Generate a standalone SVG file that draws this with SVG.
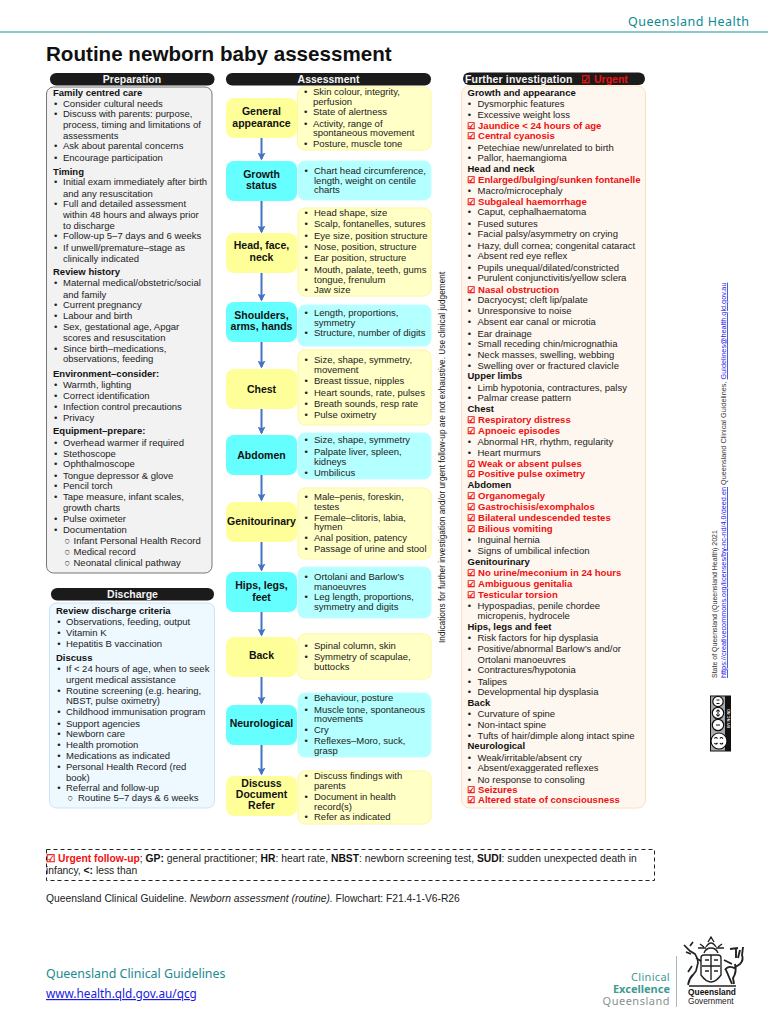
<svg xmlns="http://www.w3.org/2000/svg" width="768" height="1024" viewBox="0 0 768 1024">
<style>
text{font-family:"Liberation Sans",Arial,sans-serif;fill:#222;font-size:9.5px}
.h{font-weight:bold;fill:#111}
.r{font-weight:bold;fill:#f01010;font-size:9.6px}
.c{font-family:"DejaVu Sans",sans-serif;fill:#f01010;font-size:9px;stroke:#f01010;stroke-width:.35px}
.p{font-weight:bold;fill:#f4f4f4;font-size:10.5px;text-anchor:middle}
.n{font-weight:bold;fill:#111;font-size:10.5px;text-anchor:middle}
.pill{fill:#1b1b1b}
.ly{fill:#FFFF99}.lc{fill:#66FFFF}
.ry{fill:#FFFFC6;stroke:#FFF79E;stroke-width:1}
.rc{fill:#B4FFFF;stroke:#C4FBFF;stroke-width:1}
.arr{stroke:#4472C4;stroke-width:2;fill:none;marker-end:url(#ah)}
.s{font-size:7.3px;fill:#333}
.l{font-size:7.3px;fill:#1a1ae0;text-decoration:underline}
.cr{fill:none;stroke:#222;stroke-width:1.4}
.q{font-family:"Noto Sans",sans-serif}
</style>
<defs>
<marker id="ah" markerWidth="4" markerHeight="4" refX="3.2" refY="2" orient="auto"><path d="M0,0L4,2L0,4L.8,2Z" fill="#4472C4"/></marker>
</defs>
<rect width="768" height="1024" fill="#fff"/>
<g id="header">
<text class="q" x="628" y="26" style="font-size:12.5px;fill:#0b8a8f;letter-spacing:.5px">Queensland Health</text>
<rect x="0" y="31.500" width="768" height="1" fill="#1a8f93"/>
<text x="46" y="61" style="font-weight:bold;font-size:20.6px;fill:#111">Routine newborn baby assessment</text>
</g>
<g id="preparation">
<rect class="pill" x="50" y="73" width="164.500" height="12.500" rx="6.200"/>
<text class="p" x="132" y="82.500">Preparation</text>
<rect x="46.500" y="87" width="165.500" height="486" rx="7" fill="#F2F2F2" stroke="#777"/>
<text class="h" x="53" y="96">Family centred care</text>
<text y="106.700"><tspan x="54">•</tspan><tspan x="63">Consider cultural needs</tspan></text>
<text y="116.700"><tspan x="54">•</tspan><tspan x="63">Discuss with parents: purpose,</tspan></text>
<text x="63" y="128">process, timing and limitations of</text>
<text x="63" y="138.700">assessments</text>
<text y="149"><tspan x="54">•</tspan><tspan x="63">Ask about parental concerns</tspan></text>
<text y="160.700"><tspan x="54">•</tspan><tspan x="63">Encourage participation</tspan></text>
<text class="h" x="53" y="175">Timing</text>
<text y="185.300"><tspan x="54">•</tspan><tspan x="63">Initial exam immediately after birth</tspan></text>
<text x="63" y="196.700">and any resuscitation</text>
<text y="206.700"><tspan x="54">•</tspan><tspan x="63">Full and detailed assessment</tspan></text>
<text x="63" y="217.700">within 48 hours and always prior</text>
<text x="63" y="229">to discharge</text>
<text y="239.300"><tspan x="54">•</tspan><tspan x="63">Follow-up 5–7 days and 6 weeks</tspan></text>
<text y="251"><tspan x="54">•</tspan><tspan x="63">If unwell/premature–stage as</tspan></text>
<text x="63" y="261.700">clinically indicated</text>
<text class="h" x="53" y="275.300">Review history</text>
<text y="286"><tspan x="54">•</tspan><tspan x="63">Maternal medical/obstetric/social</tspan></text>
<text x="63" y="297.700">and family</text>
<text y="308.300"><tspan x="54">•</tspan><tspan x="63">Current pregnancy</tspan></text>
<text y="319.300"><tspan x="54">•</tspan><tspan x="63">Labour and birth</tspan></text>
<text y="330.300"><tspan x="54">•</tspan><tspan x="63">Sex, gestational age, Apgar</tspan></text>
<text x="63" y="341.300">scores and resuscitation</text>
<text y="352"><tspan x="54">•</tspan><tspan x="63">Since birth–medications,</tspan></text>
<text x="63" y="362.300">observations, feeding</text>
<text class="h" x="53" y="376.700">Environment–consider:</text>
<text y="388"><tspan x="54">•</tspan><tspan x="63">Warmth, lighting</tspan></text>
<text y="398.700"><tspan x="54">•</tspan><tspan x="63">Correct identification</tspan></text>
<text y="410"><tspan x="54">•</tspan><tspan x="63">Infection control precautions</tspan></text>
<text y="420.700"><tspan x="54">•</tspan><tspan x="63">Privacy</tspan></text>
<text class="h" x="53" y="434">Equipment–prepare:</text>
<text y="446"><tspan x="54">•</tspan><tspan x="63">Overhead warmer if required</tspan></text>
<text y="456.700"><tspan x="54">•</tspan><tspan x="63">Stethoscope</tspan></text>
<text y="467"><tspan x="54">•</tspan><tspan x="63">Ophthalmoscope</tspan></text>
<text y="478.700"><tspan x="54">•</tspan><tspan x="63">Tongue depressor &amp; glove</tspan></text>
<text y="489"><tspan x="54">•</tspan><tspan x="63">Pencil torch</tspan></text>
<text y="500.300"><tspan x="54">•</tspan><tspan x="63">Tape measure, infant scales,</tspan></text>
<text x="63" y="511">growth charts</text>
<text y="522.300"><tspan x="54">•</tspan><tspan x="63">Pulse oximeter</tspan></text>
<text y="532.700"><tspan x="54">•</tspan><tspan x="63">Documentation</tspan></text>
<text y="544"><tspan x="64.500">○</tspan><tspan x="73.500">Infant Personal Health Record</tspan></text>
<text y="554.700"><tspan x="64.500">○</tspan><tspan x="73.500">Medical record</tspan></text>
<text y="566"><tspan x="64.500">○</tspan><tspan x="73.500">Neonatal clinical pathway</tspan></text>
</g>
<g id="discharge">
<rect class="pill" x="51" y="588" width="163" height="12.500" rx="6.200"/>
<text class="p" x="132.500" y="597.500">Discharge</text>
<rect x="49.500" y="603" width="165" height="205" rx="7" fill="#EEF8FF" stroke="#CDE4F4"/>
<text class="h" x="56" y="614">Review discharge criteria</text>
<text y="625"><tspan x="57.300">•</tspan><tspan x="66">Observations, feeding, output</tspan></text>
<text y="636"><tspan x="57.300">•</tspan><tspan x="66">Vitamin K</tspan></text>
<text y="646.700"><tspan x="57.300">•</tspan><tspan x="66">Hepatitis B vaccination</tspan></text>
<text class="h" x="56" y="661.300">Discuss</text>
<text y="672.300"><tspan x="57.300">•</tspan><tspan x="66">If &lt; 24 hours of age, when to seek</tspan></text>
<text x="66" y="683">urgent medical assistance</text>
<text y="693.700"><tspan x="57.300">•</tspan><tspan x="66">Routine screening (e.g. hearing,</tspan></text>
<text x="66" y="704.300">NBST, pulse oximetry)</text>
<text y="715"><tspan x="57.300">•</tspan><tspan x="66">Childhood immunisation program</tspan></text>
<text y="726.700"><tspan x="57.300">•</tspan><tspan x="66">Support agencies</tspan></text>
<text y="737"><tspan x="57.300">•</tspan><tspan x="66">Newborn care</tspan></text>
<text y="748.300"><tspan x="57.300">•</tspan><tspan x="66">Health promotion</tspan></text>
<text y="758.700"><tspan x="57.300">•</tspan><tspan x="66">Medications as indicated</tspan></text>
<text y="770.300"><tspan x="57.300">•</tspan><tspan x="66">Personal Health Record (red</tspan></text>
<text x="66" y="781">book)</text>
<text y="791.300"><tspan x="57.300">•</tspan><tspan x="66">Referral and follow-up</tspan></text>
<text y="801.300"><tspan x="67.500">○</tspan><tspan x="78">Routine 5–7 days &amp; 6 weeks</tspan></text>
</g>
<g id="assessment-title">
<rect class="pill" x="226" y="73" width="205" height="12.500" rx="6.200"/>
<text class="p" x="328.500" y="82.500">Assessment</text>
</g>
<g id="connectors">
<path class="arr" d="M261.500 138V159"/>
<path class="arr" d="M261.500 201V232"/>
<path class="arr" d="M261.500 273V300"/>
<path class="arr" d="M261.500 342V367"/>
<path class="arr" d="M261.500 409V433"/>
<path class="arr" d="M261.500 475V500"/>
<path class="arr" d="M261.500 542V570"/>
<path class="arr" d="M261.500 612V635"/>
<path class="arr" d="M261.500 677V703"/>
<path class="arr" d="M261.500 745V774"/>
</g>
<g id="general">
<rect class="ly" x="226" y="98" width="71" height="40" rx="8"/>
<text class="n" x="261.500" y="115">General</text><text class="n" x="261.500" y="126.700">appearance</text>
<rect class="ry" x="297.500" y="87" width="133.500" height="63" rx="7"/>
<text y="95"><tspan x="304">•</tspan><tspan x="313">Skin colour, integrity,</tspan></text>
<text x="313" y="104.700">perfusion</text>
<text y="115"><tspan x="304">•</tspan><tspan x="313">State of alertness</tspan></text>
<text y="126.700"><tspan x="304">•</tspan><tspan x="313">Activity, range of</tspan></text>
<text x="313" y="136">spontaneous movement</text>
<text y="147.300"><tspan x="304">•</tspan><tspan x="313">Posture, muscle tone</tspan></text>
</g>
<g id="growth">
<rect class="lc" x="226" y="161" width="71" height="40" rx="8"/>
<text class="n" x="261.500" y="177.700">Growth</text><text class="n" x="261.500" y="189.300">status</text>
<rect class="rc" x="298" y="161" width="133" height="39" rx="7"/>
<text y="173.800"><tspan x="304.500">•</tspan><tspan x="314">Chart head circumference,</tspan></text>
<text x="314" y="183.500">length, weight on centile</text>
<text x="314" y="193">charts</text>
</g>
<g id="head">
<rect class="ly" x="226" y="233" width="71" height="40" rx="8"/>
<text class="n" x="261.500" y="249.300">Head, face,</text><text class="n" x="261.500" y="260.700">neck</text>
<rect class="ry" x="298" y="208" width="133" height="88" rx="7"/>
<text y="215.700"><tspan x="304.500">•</tspan><tspan x="314">Head shape, size</tspan></text>
<text y="227.300"><tspan x="304.500">•</tspan><tspan x="314">Scalp, fontanelles, sutures</tspan></text>
<text y="238.700"><tspan x="304.500">•</tspan><tspan x="314">Eye size, position structure</tspan></text>
<text y="250"><tspan x="304.500">•</tspan><tspan x="314">Nose, position, structure</tspan></text>
<text y="261.300"><tspan x="304.500">•</tspan><tspan x="314">Ear position, structure</tspan></text>
<text y="272.700"><tspan x="304.500">•</tspan><tspan x="314">Mouth, palate, teeth, gums</tspan></text>
<text x="314" y="282.700">tongue, frenulum</text>
<text y="292.700"><tspan x="304.500">•</tspan><tspan x="314">Jaw size</tspan></text>
</g>
<g id="shoulders">
<rect class="lc" x="226" y="302" width="71" height="40" rx="8"/>
<text class="n" x="261.500" y="318.500">Shoulders,</text><text class="n" x="261.500" y="330">arms, hands</text>
<rect class="rc" x="298" y="305" width="133" height="41" rx="7"/>
<text y="316"><tspan x="304.500">•</tspan><tspan x="314">Length, proportions,</tspan></text>
<text x="314" y="325.700">symmetry</text>
<text y="336"><tspan x="304.500">•</tspan><tspan x="314">Structure, number of digits</tspan></text>
</g>
<g id="chest">
<rect class="ly" x="226" y="369" width="71" height="40" rx="8"/>
<text class="n" x="261.500" y="392.500">Chest</text>
<rect class="ry" x="298" y="350" width="133" height="75" rx="7"/>
<text y="363"><tspan x="304.500">•</tspan><tspan x="314">Size, shape, symmetry,</tspan></text>
<text x="314" y="373">movement</text>
<text y="384"><tspan x="304.500">•</tspan><tspan x="314">Breast tissue, nipples</tspan></text>
<text y="396"><tspan x="304.500">•</tspan><tspan x="314">Heart sounds, rate, pulses</tspan></text>
<text y="407"><tspan x="304.500">•</tspan><tspan x="314">Breath sounds, resp rate</tspan></text>
<text y="418"><tspan x="304.500">•</tspan><tspan x="314">Pulse oximetry</tspan></text>
</g>
<g id="abdomen">
<rect class="lc" x="226" y="435" width="71" height="40" rx="8"/>
<text class="n" x="261.500" y="458.500">Abdomen</text>
<rect class="rc" x="298" y="433" width="133" height="46" rx="7"/>
<text y="443"><tspan x="304.500">•</tspan><tspan x="314">Size, shape, symmetry</tspan></text>
<text y="455"><tspan x="304.500">•</tspan><tspan x="314">Palpate liver, spleen,</tspan></text>
<text x="314" y="465">kidneys</text>
<text y="476"><tspan x="304.500">•</tspan><tspan x="314">Umbilicus</tspan></text>
</g>
<g id="genitourinary">
<rect class="ly" x="226" y="502" width="71" height="40" rx="8"/>
<text class="n" x="261.500" y="525">Genitourinary</text>
<rect class="ry" x="298" y="488" width="133" height="71" rx="7"/>
<text y="500"><tspan x="304.500">•</tspan><tspan x="314">Male–penis, foreskin,</tspan></text>
<text x="314" y="510">testes</text>
<text y="521"><tspan x="304.500">•</tspan><tspan x="314">Female–clitoris, labia,</tspan></text>
<text x="314" y="530">hymen</text>
<text y="541"><tspan x="304.500">•</tspan><tspan x="314">Anal position, patency</tspan></text>
<text y="552"><tspan x="304.500">•</tspan><tspan x="314">Passage of urine and stool</tspan></text>
</g>
<g id="hips">
<rect class="lc" x="226" y="572" width="71" height="40" rx="8"/>
<text class="n" x="261.500" y="589">Hips, legs,</text><text class="n" x="261.500" y="600.700">feet</text>
<rect class="rc" x="298" y="567" width="133" height="51" rx="7"/>
<text y="580.300"><tspan x="304.500">•</tspan><tspan x="314">Ortolani and Barlow’s</tspan></text>
<text x="314" y="590">manoeuvres</text>
<text y="600"><tspan x="304.500">•</tspan><tspan x="314">Leg length, proportions,</tspan></text>
<text x="314" y="610">symmetry and digits</text>
</g>
<g id="back">
<rect class="ly" x="226" y="637" width="71" height="40" rx="8"/>
<text class="n" x="261.500" y="659.300">Back</text>
<rect class="ry" x="298" y="634" width="133" height="45" rx="7"/>
<text y="648.700"><tspan x="304.500">•</tspan><tspan x="314">Spinal column, skin</tspan></text>
<text y="660.300"><tspan x="304.500">•</tspan><tspan x="314">Symmetry of scapulae,</tspan></text>
<text x="314" y="669.700">buttocks</text>
</g>
<g id="neurological">
<rect class="lc" x="226" y="705" width="71" height="40" rx="8"/>
<text class="n" x="261.500" y="726.700">Neurological</text>
<rect class="rc" x="298" y="693" width="133" height="64" rx="7"/>
<text y="701.300"><tspan x="304.500">•</tspan><tspan x="314">Behaviour, posture</tspan></text>
<text y="712.700"><tspan x="304.500">•</tspan><tspan x="314">Muscle tone, spontaneous</tspan></text>
<text x="314" y="722">movements</text>
<text y="732.700"><tspan x="304.500">•</tspan><tspan x="314">Cry</tspan></text>
<text y="744"><tspan x="304.500">•</tspan><tspan x="314">Reflexes–Moro, suck,</tspan></text>
<text x="314" y="753.700">grasp</text>
</g>
<g id="discuss">
<rect class="ly" x="226" y="776" width="71" height="40" rx="8"/>
<text class="n" x="261.500" y="786.700">Discuss</text><text class="n" x="261.500" y="798.300">Document</text><text class="n" x="261.500" y="809.300">Refer</text>
<rect class="ry" x="298" y="771" width="133" height="53" rx="7"/>
<text y="779.300"><tspan x="304.500">•</tspan><tspan x="314">Discuss findings with</tspan></text>
<text x="314" y="789">parents</text>
<text y="800"><tspan x="304.500">•</tspan><tspan x="314">Document in health</tspan></text>
<text x="314" y="809.700">record(s)</text>
<text y="820"><tspan x="304.500">•</tspan><tspan x="314">Refer as indicated</tspan></text>
</g>
<text id="side-note" transform="translate(445,643) rotate(-90)" style="font-size:8.3px;fill:#111">Indications for further investigation and/or urgent follow-up are not exhaustive. Use clinical judgement</text>
<g id="further">
<rect class="pill" x="463" y="72.500" width="182" height="12.500" rx="6.200"/>
<text x="465" y="82.500" style="font-weight:bold;fill:#f4f4f4;font-size:10.5px;letter-spacing:.15px">Further investigation</text>
<text class="c" x="581" y="82.500" style="font-size:10px">☑</text>
<text x="594" y="82.500" style="font-weight:bold;fill:#f01010;font-size:10.5px">Urgent</text>
<rect x="461.500" y="86" width="184" height="722" rx="8" fill="#FEF7EF" stroke="#FBE0C0"/>
<text class="h" x="467.500" y="95.700">Growth and appearance</text>
<text y="107"><tspan x="467.700">•</tspan><tspan x="477.500">Dysmorphic features</tspan></text>
<text y="117.700"><tspan x="467.700">•</tspan><tspan x="477.500">Excessive weight loss</tspan></text>
<text y="128.700"><tspan class="c" x="467">☑</tspan><tspan class="r" x="478">Jaundice &lt; 24 hours of age</tspan></text>
<text y="139.300"><tspan class="c" x="467">☑</tspan><tspan class="r" x="478">Central cyanosis</tspan></text>
<text y="150.700"><tspan x="467.700">•</tspan><tspan x="477.500">Petechiae new/unrelated to birth</tspan></text>
<text y="161.300"><tspan x="467.700">•</tspan><tspan x="477.500">Pallor, haemangioma</tspan></text>
<text class="h" x="467.500" y="171.700">Head and neck</text>
<text y="183"><tspan class="c" x="467">☑</tspan><tspan class="r" x="478">Enlarged/bulging/sunken fontanelle</tspan></text>
<text y="193.700"><tspan x="467.700">•</tspan><tspan x="477.500">Macro/microcephaly</tspan></text>
<text y="205"><tspan class="c" x="467">☑</tspan><tspan class="r" x="478">Subgaleal haemorrhage</tspan></text>
<text y="215.300"><tspan x="467.700">•</tspan><tspan x="477.500">Caput, cephalhaematoma</tspan></text>
<text y="226.700"><tspan x="467.700">•</tspan><tspan x="477.500">Fused sutures</tspan></text>
<text y="237.300"><tspan x="467.700">•</tspan><tspan x="477.500">Facial palsy/asymmetry on crying</tspan></text>
<text y="248.700"><tspan x="467.700">•</tspan><tspan x="477.500">Hazy, dull cornea; congenital cataract</tspan></text>
<text y="259.300"><tspan x="467.700">•</tspan><tspan x="477.500">Absent red eye reflex</tspan></text>
<text y="270.700"><tspan x="467.700">•</tspan><tspan x="477.500">Pupils unequal/dilated/constricted</tspan></text>
<text y="281.300"><tspan x="467.700">•</tspan><tspan x="477.500">Purulent conjunctivitis/yellow sclera</tspan></text>
<text y="292.700"><tspan class="c" x="467">☑</tspan><tspan class="r" x="478">Nasal obstruction</tspan></text>
<text y="303"><tspan x="467.700">•</tspan><tspan x="477.500">Dacryocyst; cleft lip/palate</tspan></text>
<text y="314.300"><tspan x="467.700">•</tspan><tspan x="477.500">Unresponsive to noise</tspan></text>
<text y="325"><tspan x="467.700">•</tspan><tspan x="477.500">Absent ear canal or microtia</tspan></text>
<text y="336.700"><tspan x="467.700">•</tspan><tspan x="477.500">Ear drainage</tspan></text>
<text y="347"><tspan x="467.700">•</tspan><tspan x="477.500">Small receding chin/micrognathia</tspan></text>
<text y="358.300"><tspan x="467.700">•</tspan><tspan x="477.500">Neck masses, swelling, webbing</tspan></text>
<text y="368.700"><tspan x="467.700">•</tspan><tspan x="477.500">Swelling over or fractured clavicle</tspan></text>
<text class="h" x="467.500" y="379.300">Upper limbs</text>
<text y="390.700"><tspan x="467.700">•</tspan><tspan x="477.500">Limb hypotonia, contractures, palsy</tspan></text>
<text y="401.300"><tspan x="467.700">•</tspan><tspan x="477.500">Palmar crease pattern</tspan></text>
<text class="h" x="467.500" y="412.300">Chest</text>
<text y="423"><tspan class="c" x="467">☑</tspan><tspan class="r" x="478">Respiratory distress</tspan></text>
<text y="434.300"><tspan class="c" x="467">☑</tspan><tspan class="r" x="478">Apnoeic episodes</tspan></text>
<text y="445"><tspan x="467.700">•</tspan><tspan x="477.500">Abnormal HR, rhythm, regularity</tspan></text>
<text y="456.300"><tspan x="467.700">•</tspan><tspan x="477.500">Heart murmurs</tspan></text>
<text y="466.700"><tspan class="c" x="467">☑</tspan><tspan class="r" x="478">Weak or absent pulses</tspan></text>
<text y="477.300"><tspan class="c" x="467">☑</tspan><tspan class="r" x="478">Positive pulse oximetry</tspan></text>
<text class="h" x="467.500" y="488.300">Abdomen</text>
<text y="499.300"><tspan class="c" x="467">☑</tspan><tspan class="r" x="478">Organomegaly</tspan></text>
<text y="510.300"><tspan class="c" x="467">☑</tspan><tspan class="r" x="478">Gastrochisis/exomphalos</tspan></text>
<text y="521"><tspan class="c" x="467">☑</tspan><tspan class="r" x="478">Bilateral undescended testes</tspan></text>
<text y="532.300"><tspan class="c" x="467">☑</tspan><tspan class="r" x="478">Bilious vomiting</tspan></text>
<text y="543"><tspan x="467.700">•</tspan><tspan x="477.500">Inguinal hernia</tspan></text>
<text y="554"><tspan x="467.700">•</tspan><tspan x="477.500">Signs of umbilical infection</tspan></text>
<text class="h" x="467.500" y="564.700">Genitourinary</text>
<text y="576"><tspan class="c" x="467">☑</tspan><tspan class="r" x="478">No urine/meconium in 24 hours</tspan></text>
<text y="586.700"><tspan class="c" x="467">☑</tspan><tspan class="r" x="478">Ambiguous genitalia</tspan></text>
<text y="598"><tspan class="c" x="467">☑</tspan><tspan class="r" x="478">Testicular torsion</tspan></text>
<text y="608.700"><tspan x="467.700">•</tspan><tspan x="477.500">Hypospadias, penile chordee</tspan></text>
<text x="477.500" y="619">micropenis, hydrocele</text>
<text class="h" x="467.500" y="630.300">Hips, legs and feet</text>
<text y="641"><tspan x="467.700">•</tspan><tspan x="477.500">Risk factors for hip dysplasia</tspan></text>
<text y="652.300"><tspan x="467.700">•</tspan><tspan x="477.500">Positive/abnormal Barlow’s and/or</tspan></text>
<text x="477.500" y="662.700">Ortolani manoeuvres</text>
<text y="673.300"><tspan x="467.700">•</tspan><tspan x="477.500">Contractures/hypotonia</tspan></text>
<text y="684.700"><tspan x="467.700">•</tspan><tspan x="477.500">Talipes</tspan></text>
<text y="695.300"><tspan x="467.700">•</tspan><tspan x="477.500">Developmental hip dysplasia</tspan></text>
<text class="h" x="467.500" y="706.300">Back</text>
<text y="717"><tspan x="467.700">•</tspan><tspan x="477.500">Curvature of spine</tspan></text>
<text y="728.300"><tspan x="467.700">•</tspan><tspan x="477.500">Non-intact spine</tspan></text>
<text y="739"><tspan x="467.700">•</tspan><tspan x="477.500">Tufts of hair/dimple along intact spine</tspan></text>
<text class="h" x="467.500" y="749.300">Neurological</text>
<text y="760.700"><tspan x="467.700">•</tspan><tspan x="477.500">Weak/irritable/absent cry</tspan></text>
<text y="771.300"><tspan x="467.700">•</tspan><tspan x="477.500">Absent/exaggerated reflexes</tspan></text>
<text y="782.700"><tspan x="467.700">•</tspan><tspan x="477.500">No response to consoling</tspan></text>
<text y="793.300"><tspan class="c" x="467">☑</tspan><tspan class="r" x="478">Seizures</tspan></text>
<text y="802.700"><tspan class="c" x="467">☑</tspan><tspan class="r" x="478">Altered state of consciousness</tspan></text>
</g>
<g id="copyright">
<text class="s" transform="translate(717,678) rotate(-90)" style="font-size:7px">State of Queensland (Queensland Health) 2021</text>
<text transform="translate(726,678) rotate(-90)"><tspan class="l">https://creativecommons.org/licenses/by-nc-nd/4.0/deed.en</tspan><tspan class="s"> Queensland Clinical Guidelines, </tspan><tspan class="l">Guidelines@health.qld.gov.au</tspan></text>
<g id="cc-badge">
<rect x="710.500" y="696" width="20" height="55" fill="#aaa" stroke="#111"/>
<rect x="725" y="696" width="6" height="55" fill="#111"/>
<circle cx="719" cy="741" r="8" fill="#fff" stroke="#111" stroke-width="1.200"/>
<circle cx="718" cy="725" r="5.700" fill="#fff" stroke="#111" stroke-width="1.200"/>
<circle cx="718" cy="713" r="5.700" fill="#fff" stroke="#111" stroke-width="1.200"/>
<circle cx="718" cy="701.500" r="5.200" fill="#fff" stroke="#111" stroke-width="1.200"/>
<path d="M716 725h4M720.500 701.500v0M719.500 703.500h-3M719.500 700h-3M716 711.500q2-3 4 0M716 714.500q2 3 4 0M718 709.500v7" fill="none" stroke="#111" stroke-width="1"/>
<path d="M714.500 738.500q1-2 3 0M714.500 743q1 2 3 0M720 738.500q1-2 3 0M720 743q1 2 3 0" fill="none" stroke="#111" stroke-width="1.200"/>
<text transform="translate(729.500,728) rotate(-90)" style="font-size:4px;fill:#eee;font-weight:bold">BY  NC  ND</text>
</g>
</g>
<g id="legend">
<rect x="46.500" y="849.500" width="608" height="31" fill="none" stroke="#222" stroke-dasharray="4 3"/>
<text y="862" style="font-size:10.3px"><tspan class="c" x="46" style="font-size:10.3px">☑</tspan><tspan x="58" style="font-weight:bold;fill:#f01010">Urgent follow-up</tspan>; <tspan class="h">GP:</tspan> general practitioner; <tspan class="h">HR</tspan>: heart rate, <tspan class="h">NBST</tspan>: newborn screening test, <tspan class="h">SUDI</tspan>: sudden unexpected death in</text>
<text x="46" y="874" style="font-size:10.3px">infancy, <tspan class="h">&lt;:</tspan> less than</text>
<text x="46" y="902" style="font-size:10.3px">Queensland Clinical Guideline. <tspan font-style="italic">Newborn assessment (routine).</tspan> Flowchart: F21.4-1-V6-R26</text>
</g>
<g id="footer">
<text class="q" x="46" y="978" style="font-size:12.400px;fill:#1b8a92">Queensland Clinical Guidelines</text>
<text class="q" x="46" y="998" style="font-size:11.800px;fill:#1a1ae0;text-decoration:underline">www.health.qld.gov.au/qcg</text>
<text class="q" x="670" y="981" text-anchor="end" style="font-size:11px;fill:#3f9a94;letter-spacing:.3px">Clinical</text>
<text class="q" x="670" y="993" text-anchor="end" style="font-size:11px;font-weight:bold;fill:#3f9a94">Excellence</text>
<text class="q" x="670" y="1005" text-anchor="end" style="font-size:11px;fill:#8a8f90;letter-spacing:.5px">Queensland</text>
<rect x="676" y="956" width="1" height="51" fill="#a9b8b8"/>
</g>
<g id="crest">
<path class="cr" d="M701 975V958q0-3 3-3h14q3 0 3 3v17q-5 7-10 7t-10-7Z" fill="#fff"/>
<path class="cr" d="M711 955V980M702 966H720M705 960h4M714 960h4M705 971h4M714 971h4"/>
<path class="cr" d="M704 953q2-5 7-5t7 5M706 947q5-8 10 0M708 942l3-5 3 5M698 948h8M716 948h8M700 944l4 3M722 944l-4 3"/>
<path class="cr" d="M684 945l6 6 5 3q3 4 3 9l-2 8-6 8-2 6M688 984q2-8 6-10M696 958l5 3M690 946l3-4M686 952l5 2M692 966l-4 6" style="stroke-width:1.700"/>
<path class="cr" d="M743 947l-1 8q2 5-2 9l-6 4q-6-3-9 2M735 964q2 8-2 14l1 6M726 970l6 14M730 949l8-1M736 948v10M740 950l-2 8M724 960l8 4" style="stroke-width:1.900"/>
<path class="cr" d="M689 986H736" style="stroke-width:1.500"/>
<text x="688" y="995" style="font-weight:bold;font-size:8.400px;fill:#111">Queensland</text>
<text x="688" y="1004" style="font-size:8.300px;fill:#222">Government</text>
</g>
</svg>
